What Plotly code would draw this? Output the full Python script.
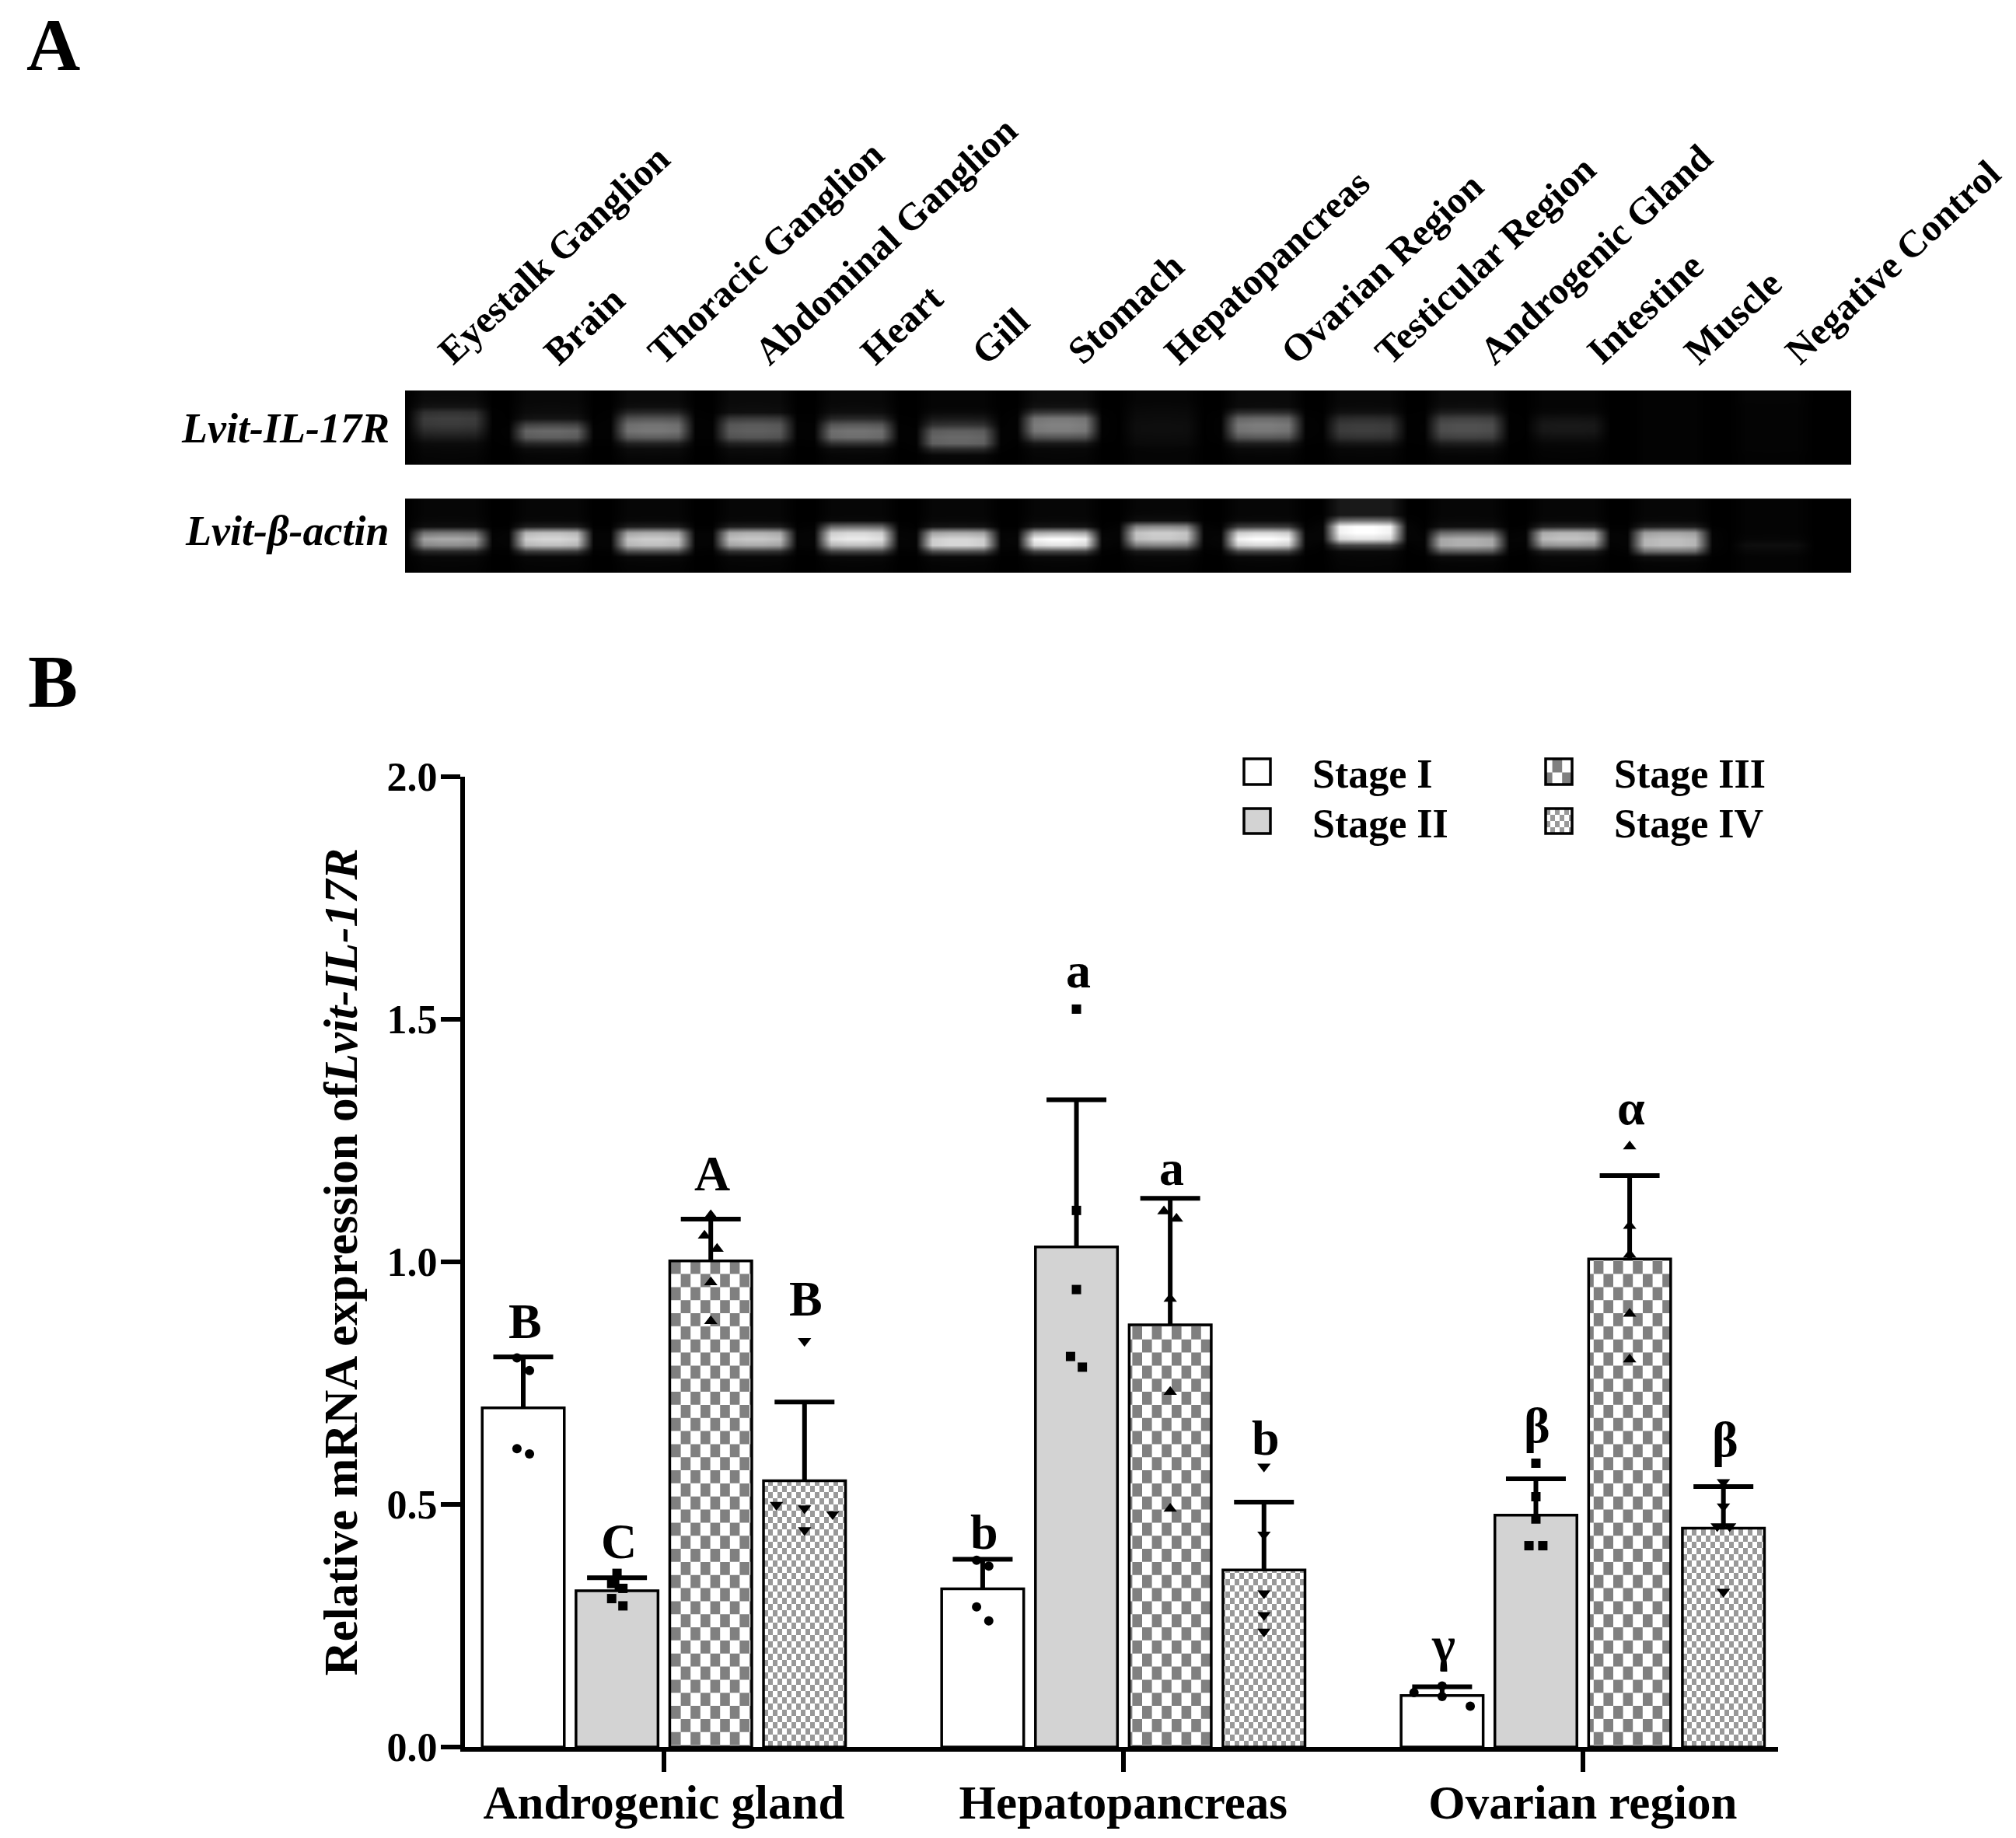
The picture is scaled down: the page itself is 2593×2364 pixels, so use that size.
import plotly.graph_objects as go

W, H = 2593, 2364
SERIF = "Liberation Serif"

# ---------- data ----------
stages = ["Stage I", "Stage II", "Stage III", "Stage IV"]
tissues = ["Androgenic gland", "Hepatopancreas", "Ovarian region"]

means_I = [0.699, 0.326, 0.106]
means_II = [0.322, 1.031, 0.478]
means_III = [1.002, 0.870, 1.006]
means_IV = [0.549, 0.365, 0.451]

upper_I = [0.804, 0.387, 0.124]
upper_II = [0.349, 1.334, 0.553]
upper_III = [1.088, 1.131, 1.178]
upper_IV = [0.711, 0.505, 0.537]

letters_I = ["B", "b", "γ"]
letters_II = ["C", "a", "β"]
letters_III = ["A", "a", "α"]
letters_IV = ["B", "b", "β"]

letter_y_I = [0.843, 0.408, 0.178]
letter_y_II = [0.390, 1.566, 0.629]
letter_y_III = [1.147, 1.158, 1.283]
letter_y_IV = [0.890, 0.603, 0.600]

# replicate points per tissue, per stage: (horizontal jitter in bar-slots, value)
points_I = [
    [(-0.067, 0.802), (0.067, 0.776), (-0.067, 0.615), (0.067, 0.604)],
    [(-0.065, 0.385), (0.065, 0.373), (-0.065, 0.289), (0.065, 0.260)],
    [(-0.30, 0.112), (0.0, 0.126), (0.0, 0.104), (0.30, 0.084)],
]
points_II = [
    [(0.0, 0.358), (-0.057, 0.337), (0.063, 0.327), (-0.057, 0.306), (0.063, 0.291)],
    [(0.0, 1.521), (0.0, 1.106), (0.0, 0.943), (-0.063, 0.805), (0.063, 0.783)],
    [(0.0, 0.585), (0.0, 0.516), (0.0, 0.470), (-0.074, 0.415), (0.074, 0.415)],
]
points_III = [
    [(0.0, 1.096), (-0.067, 1.054), (0.067, 1.027), (0.0, 0.958), (0.0, 0.878)],
    [(-0.067, 1.104), (0.067, 1.089), (0.0, 0.924), (0.0, 0.732), (0.0, 0.491)],
    [(0.0, 1.238), (0.0, 1.074), (0.0, 1.015), (0.0, 0.893), (0.0, 0.799)],
]
points_IV = [
    [(0.0, 0.837), (-0.30, 0.499), (0.0, 0.492), (0.30, 0.480), (0.0, 0.447)],
    [(0.0, 0.578), (0.0, 0.438), (0.0, 0.317), (0.0, 0.272), (0.0, 0.238)],
    [(0.0, 0.546), (0.0, 0.496), (-0.066, 0.455), (0.066, 0.455), (0.0, 0.320)],
]

gel_lanes = ["Eyestalk Ganglion", "Brain", "Thoracic Ganglion", "Abdominal Ganglion",
             "Heart", "Gill", "Stomach", "Hepatopancreas", "Ovarian Region",
             "Testicular Region", "Androgenic Gland", "Intestine", "Muscle", "Negative Control"]

# band brightness read down each lane (0-255), top to bottom of the gel strip
il17r_profiles = [
    [10, 12, 20, 50, 62, 58, 45, 28, 12, 8, 6, 5],
    [8, 8, 10, 12, 20, 70, 105, 95, 40, 12, 6, 5],
    [10, 10, 15, 40, 85, 115, 120, 95, 35, 12, 8, 5],
    [10, 10, 12, 15, 60, 90, 95, 85, 35, 12, 8, 5],
    [8, 8, 10, 15, 40, 90, 115, 110, 50, 12, 6, 5],
    [5, 5, 5, 10, 25, 50, 95, 105, 100, 45, 8, 5],
    [12, 12, 18, 55, 120, 130, 125, 85, 25, 8, 6, 5],
    [6, 6, 8, 10, 12, 14, 14, 12, 10, 6, 5, 5],
    [10, 10, 12, 45, 105, 125, 120, 90, 30, 10, 6, 4],
    [8, 8, 10, 18, 45, 60, 62, 50, 22, 8, 6, 4],
    [10, 10, 14, 30, 65, 80, 80, 65, 30, 12, 6, 4],
    [5, 5, 5, 8, 18, 25, 24, 16, 8, 5, 4, 3],
    [3, 3, 3, 3, 3, 3, 3, 3, 3, 3, 3, 3],
    [5, 5, 4, 4, 4, 4, 4, 4, 4, 4, 3, 3],
]
actin_profiles = [
    [6, 6, 6, 8, 15, 120, 170, 140, 40, 8, 5, 4],
    [6, 6, 6, 8, 30, 190, 215, 190, 60, 8, 5, 4],
    [6, 6, 6, 8, 30, 170, 205, 190, 80, 10, 5, 4],
    [6, 6, 6, 8, 30, 175, 200, 170, 50, 8, 5, 4],
    [6, 6, 6, 10, 110, 215, 235, 190, 70, 10, 5, 4],
    [6, 6, 6, 8, 20, 170, 215, 215, 80, 10, 5, 4],
    [6, 6, 6, 8, 20, 175, 255, 225, 70, 10, 5, 4],
    [6, 6, 8, 15, 140, 205, 200, 130, 25, 8, 5, 4],
    [6, 6, 6, 10, 60, 215, 255, 215, 70, 10, 5, 4],
    [25, 25, 25, 110, 255, 255, 225, 70, 10, 6, 5, 4],
    [6, 6, 6, 8, 15, 110, 175, 175, 90, 12, 5, 4],
    [6, 6, 6, 8, 35, 180, 195, 150, 30, 8, 5, 4],
    [6, 6, 6, 8, 30, 165, 190, 190, 110, 15, 5, 4],
    [4, 4, 4, 4, 4, 4, 6, 14, 8, 4, 4, 4],
]

# ---------- layout constants (pixels of the reference) ----------
AX_L, AX_R, AX_T, AX_B = 598, 2287, 999, 2247
SLOT = 120.6            # px between bar centres
FIRST_BAR = 673         # px centre of first bar
GROUP_STEP = 4.9        # bar slots between groups
GEL_L, GEL_R = 521, 2381
GEL1_T, GEL1_B = 503, 597
GEL2_T, GEL2_B = 642, 736
LANE_0, LANE_STEP = 578, 130.8
LANE_COLUMN_MASK = [0.02, 0.95, 1, 1, 0.95, 0.02]
lane_label_left = [550, 686, 819, 957, 1093, 1236, 1360, 1484, 1634, 1755, 1889, 2028, 2153, 2282]
LABEL_BOTTOM = 482
LEG_L, LEG_R, LEG_T, LEG_B = 1580, 2040, 960, 1090   # box of the legend's swatch axes


def px_x(px):
    return (px - FIRST_BAR) / SLOT


def px_y(px):
    return (AX_B - px) / (AX_B - AX_T) * 2.0


def checker(nx, ny, w, h):
    parts = []
    for r in range(ny):
        for c in range(nx):
            if (r + c) % 2 == 0:
                parts.append(f"M{c*w:.1f},{r*h:.1f}h{w:.1f}v{h:.1f}h{-w:.1f}z")
    return "".join(parts)


PAT_III = dict(path=checker(8, 6, 12.6, 16.8), size=101, fgcolor="#808080", bgcolor="white",
               fgopacity=1, solidity=1)
PAT_IV = dict(path=checker(8, 6, 6, 8), size=48, fgcolor="#999999", bgcolor="white",
              fgopacity=1, solidity=1)
markers_fill = [
    dict(color="white"),
    dict(color="#d3d3d3"),
    dict(color="white", pattern=PAT_III),
    dict(color="white", pattern=PAT_IV),
]
symbols = ["circle", "square", "triangle-up", "triangle-down"]
sizes = [12, 12, 15, 15]

fig = go.Figure()

all_means = [means_I, means_II, means_III, means_IV]
all_upper = [upper_I, upper_II, upper_III, upper_IV]
all_letters = [letters_I, letters_II, letters_III, letters_IV]
all_letter_y = [letter_y_I, letter_y_II, letter_y_III, letter_y_IV]
all_points = [points_I, points_II, points_III, points_IV]

annotations = []
for s, name in enumerate(stages):
    xs = [g * GROUP_STEP + s for g in range(len(tissues))]
    err = [u - m for u, m in zip(all_upper[s], all_means[s])]
    fig.add_trace(go.Bar(
        x=xs, y=all_means[s], width=0.875, name=name, showlegend=False,
        marker=dict(line=dict(color="black", width=3.5), **markers_fill[s]),
        error_y=dict(type="data", symmetric=False, array=err, arrayminus=[0] * len(err),
                     color="black", thickness=6, width=0),
    ))
    # upper cap of the error bar (error_y would also draw a lower cap on the bar top)
    fig.add_trace(go.Scatter(
        x=xs, y=all_upper[s], mode="markers", showlegend=False, name=name, hoverinfo="skip",
        marker=dict(symbol="line-ew", size=55, color="black", line=dict(color="black", width=6)),
    ))
    px_, py_ = [], []
    for g, pts in enumerate(all_points[s]):
        for dx, v in pts:
            px_.append(xs[g] + dx)
            py_.append(v)
    fig.add_trace(go.Scatter(
        x=px_, y=py_, mode="markers", showlegend=False, name=name,
        marker=dict(symbol=symbols[s], size=sizes[s], color="black", line=dict(width=0)),
    ))
    for g in range(len(tissues)):
        annotations.append(dict(
            x=xs[g], y=all_letter_y[s][g], xref="x", yref="y", text=all_letters[s][g],
            showarrow=False, yanchor="bottom", yshift=-16, xshift=2,
            font=dict(family=SERIF, size=64, color="black", weight="bold"),
        ))

# legend, drawn on its own small pixel-scaled axes so the swatches can carry the bar fills
legend_cols = [(1600, 1634), (1600, 1634), (1988, 2022), (1988, 2022)]
legend_rows = [(976, 1009), (1040, 1072), (976, 1009), (1040, 1072)]
legend_text_x = [1686, 1686, 2074, 2074]
for s, name in enumerate(stages):
    (l, r), (t, b) = legend_cols[s], legend_rows[s]
    fig.add_trace(go.Bar(
        x=[(l + r) / 2], y=[b - t], base=[t], width=[r - l], xaxis="x4", yaxis="y4",
        name=name, showlegend=False, hoverinfo="skip",
        marker=dict(line=dict(color="black", width=3.5), **markers_fill[s]),
    ))
    annotations.append(dict(
        x=legend_text_x[s] / W, y=1 - ((t + b) / 2 + 3) / H, xref="paper", yref="paper", text=name,
        showarrow=False, xanchor="left", yanchor="middle",
        font=dict(family=SERIF, size=52, color="black", weight="bold"),
    ))


def gel_matrix(profiles):
    rows = []
    for r in range(len(profiles[0])):
        row = [profiles[0][r] * 0.02]
        for lane in profiles:
            row += [lane[r] * m for m in LANE_COLUMN_MASK]
        row.append(profiles[-1][r] * 0.02)
        rows.append(row)
    return rows


gel_x = [-0.5]
for lane_i in range(len(gel_lanes)):
    gel_x += [lane_i + (c - 2.5) / 6 for c in range(6)]
gel_x.append(len(gel_lanes))
gel_y = list(range(12))

for i, prof in enumerate([il17r_profiles, actin_profiles]):
    fig.add_trace(go.Heatmap(
        x=gel_x, y=gel_y, z=gel_matrix(prof), xaxis=f"x{i+2}", yaxis=f"y{i+2}",
        zmin=0, zmax=255, showscale=False, zsmooth="best", hoverinfo="skip",
        colorscale=[[0, "#000000"], [1, "#ffffff"]],
    ))

for i, lab in enumerate(gel_lanes):
    annotations.append(dict(
        x=lane_label_left[i] / W, y=1 - LABEL_BOTTOM / H, xref="paper", yref="paper", text=lab,
        showarrow=False, textangle=-43, xanchor="left", yanchor="bottom",
        font=dict(family=SERIF, size=49, color="black", weight="bold"),
    ))

for text, yc in [("Lvit-IL-17R", 551), ("Lvit-β-actin", 683)]:
    annotations.append(dict(
        x=503 / W, y=1 - yc / H, xref="paper", yref="paper", text=f"<i>{text}</i>",
        showarrow=False, xanchor="right", yanchor="middle",
        font=dict(family=SERIF, size=54, color="black", weight="bold"),
    ))

for text, xl, yc in [("A", 32, 57), ("B", 34, 876)]:
    annotations.append(dict(
        x=xl / W, y=1 - yc / H, xref="paper", yref="paper", text=text,
        showarrow=False, xanchor="left", yanchor="middle",
        font=dict(family=SERIF, size=96, color="black", weight="bold"),
    ))

gel_x_axis = dict(showticklabels=False, ticks="", showgrid=False, zeroline=False, automargin=False,
                  showline=True, linecolor="#555555", linewidth=1, mirror=True)
gel_y_axis = dict(showticklabels=False, ticks="", showgrid=False, zeroline=False, automargin=False,
                  showline=False)
hidden_axis = dict(visible=False, automargin=False, showgrid=False, zeroline=False)
fig.update_layout(
    width=W, height=H, margin=dict(l=0, r=0, t=0, b=0),
    paper_bgcolor="white", plot_bgcolor="white", barmode="overlay", showlegend=False,
    annotations=annotations,
    font=dict(family=SERIF, color="black"),
    xaxis=dict(
        domain=[AX_L / W, AX_R / W], range=[px_x(AX_L), px_x(AX_R)], automargin=False,
        tickvals=[g * GROUP_STEP + 1.5 for g in range(len(tissues))], ticktext=tissues,
        ticks="outside", ticklen=26, tickwidth=6, tickcolor="black", ticklabelstandoff=-13,
        showline=True, linecolor="black", linewidth=6, showgrid=False, zeroline=False,
        tickfont=dict(family=SERIF, size=61, color="black", weight="bold"),
    ),
    yaxis=dict(
        domain=[1 - AX_B / H, 1 - AX_T / H], range=[0, 2], tickmode="array", automargin=False,
        tickvals=[0, 0.5, 1.0, 1.5, 2.0], ticktext=["0.0", "0.5", "1.0", "1.5", "2.0"],
        ticks="outside", ticklen=25, tickwidth=6, tickcolor="black", ticklabelstandoff=-6,
        showline=True, linecolor="black", linewidth=6, showgrid=False, zeroline=False,
        tickfont=dict(family=SERIF, size=52, color="black", weight="bold"),
        title=dict(text="Relative mRNA expression of<i>Lvit-IL-17R</i>", standoff=20,
                   font=dict(family=SERIF, size=61, color="black", weight="bold")),
    ),
    xaxis2=dict(domain=[GEL_L / W, GEL_R / W], range=[(GEL_L - LANE_0) / LANE_STEP, (GEL_R - LANE_0) / LANE_STEP],
                anchor="y2", **gel_x_axis),
    yaxis2=dict(domain=[1 - GEL1_B / H, 1 - GEL1_T / H], range=[11.5, -0.5], anchor="x2", **gel_y_axis),
    xaxis3=dict(domain=[GEL_L / W, GEL_R / W], range=[(GEL_L - LANE_0) / LANE_STEP, (GEL_R - LANE_0) / LANE_STEP],
                anchor="y3", **gel_x_axis),
    yaxis3=dict(domain=[1 - GEL2_B / H, 1 - GEL2_T / H], range=[11.5, -0.5], anchor="x3", **gel_y_axis),
    xaxis4=dict(domain=[LEG_L / W, LEG_R / W], range=[LEG_L, LEG_R], anchor="y4", **hidden_axis),
    yaxis4=dict(domain=[1 - LEG_B / H, 1 - LEG_T / H], range=[LEG_B, LEG_T], anchor="x4", **hidden_axis),
)

fig.write_html("out.html", config={"displayModeBar": False},
               post_script="document.body.style.margin='0';")
